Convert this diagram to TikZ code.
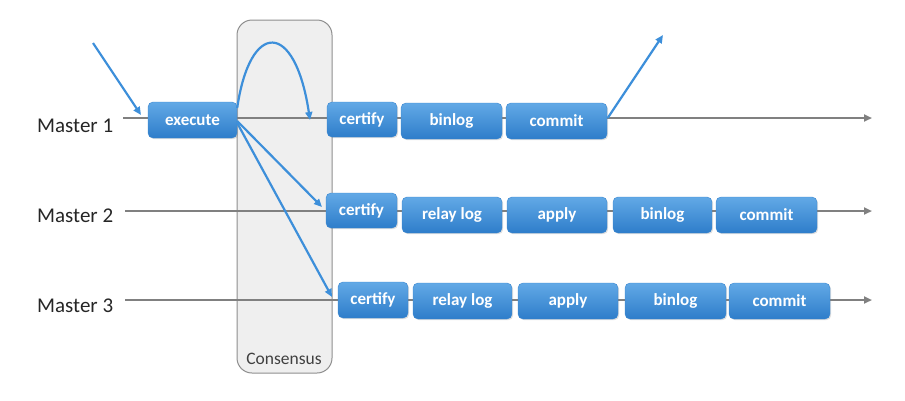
\documentclass[tikz,border=0pt]{standalone}
\usepackage{fontspec}
\setmainfont{Carlito}
\usetikzlibrary{arrows.meta,shadows}
\definecolor{boxtop}{HTML}{62A9E6}
\definecolor{boxbot}{HTML}{2E7DCA}
\definecolor{boxedge}{HTML}{3A86CF}
\definecolor{flow}{HTML}{3D8FDA}
\definecolor{tl}{HTML}{808080}
\definecolor{consfill}{HTML}{EFEFEF}
\definecolor{consedge}{HTML}{8E8E8E}
\tikzset{
  stepbox/.style={rectangle, rounded corners=5pt, inner sep=0pt,
    top color=boxtop, bottom color=boxbot, draw=boxedge, line width=0.4pt,
    text=white, font=\fontsize{17}{20}\selectfont\bfseries,
    minimum height=36pt,
    drop shadow={opacity=0.25, shadow xshift=1.2pt, shadow yshift=-1.2pt}},
  timeline/.style={draw=tl, line width=2.2pt, -{Triangle[length=8pt,width=7pt]}},
  flowarrow/.style={draw=flow, line width=2.2pt, -{Triangle[length=8pt,width=7pt]}},
  mlabel/.style={anchor=base west, inner sep=0pt, text=black!85, font=\fontsize{21}{24}\selectfont},
}
\begin{document}
\begin{tikzpicture}[x=1pt,y=-1pt]
\useasboundingbox (0,0) rectangle (905,400);
% consensus panel
\node[draw=consedge, fill=consfill, line width=1pt, rounded corners=15pt,
      minimum width=95pt, minimum height=353pt, inner sep=0pt] (cons) at (284.5,196.5) {};
\node[anchor=base, inner sep=0pt, text=black!75, font=\fontsize{17.5}{20}\selectfont] (constext) at (284,364) {Consensus};
% timelines
\coordinate (m1s) at (123,118);
\coordinate (m1e) at (872,118);
\coordinate (m2s) at (125,211);
\coordinate (m2e) at (872,211);
\coordinate (m3s) at (125,300);
\coordinate (m3e) at (872,300);
\draw[timeline] (m1s) -- (m1e);
\draw[timeline] (m2s) -- (m2e);
\draw[timeline] (m3s) -- (m3e);
% labels
\node[mlabel] (l1) at (37,132) {Master 1};
\node[mlabel] (l2) at (37,222) {Master 2};
\node[mlabel] (l3) at (37,312) {Master 3};
% row 1
\node[stepbox, minimum width=89pt] (exec) at (192.5,120) {execute};
\node[stepbox, minimum width=70pt, minimum height=35pt] (c1) at (362,119.5) {certify};
\node[stepbox, minimum width=101pt] (b1) at (451.5,121) {binlog};
\node[stepbox, minimum width=101pt] (k1) at (556.5,121) {commit};
% row 2
\node[stepbox, minimum width=71pt, minimum height=35pt] (c2) at (361.5,210.5) {certify};
\node[stepbox, minimum width=100pt] (r2) at (452,215) {relay log};
\node[stepbox, minimum width=100pt] (a2) at (557,215) {apply};
\node[stepbox, minimum width=99pt] (b2) at (662.5,215) {binlog};
\node[stepbox, minimum width=101pt] (k2) at (766.5,215) {commit};
% row 3
\node[stepbox, minimum width=70pt] (c3) at (373,300) {certify};
\node[stepbox, minimum width=99pt] (r3) at (462.5,301) {relay log};
\node[stepbox, minimum width=100pt] (a3) at (568,301) {apply};
\node[stepbox, minimum width=101pt] (b3) at (675.5,301) {binlog};
\node[stepbox, minimum width=101pt] (k3) at (779.5,301) {commit};
% flow arrows
\coordinate (in) at (93,43);
\coordinate (inend) at (141,115);
\coordinate (out) at (663,35);
\coordinate (arcend) at (310,120);
\coordinate (e2) at (322,207);
\coordinate (e3) at (332,297);
\draw[flowarrow] (in) -- (inend);
\draw[flowarrow] ([xshift=0.5pt,yshift=3pt]k1.east) -- (out);
\draw[flowarrow] ([yshift=12pt]exec.east) .. controls (250,20) and (295,20) .. (arcend);
\draw[flowarrow] ([yshift=-1pt]exec.east) -- (e2);
\draw[flowarrow] ([yshift=-3pt]exec.east) -- (e3);
\end{tikzpicture}
\end{document}
